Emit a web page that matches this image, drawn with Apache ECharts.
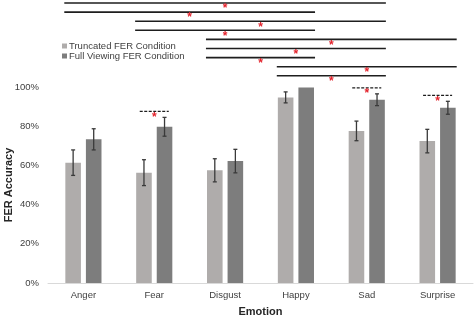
<!DOCTYPE html>
<html>
<head>
<meta charset="utf-8">
<script src="https://cdn.jsdelivr.net/npm/echarts@6/dist/echarts.min.js"></script>
<style>
  html, body { margin: 0; padding: 0; background: #fff; }
  #main { width: 474px; height: 315px; }
</style>
</head>
<body>
<div id="main"></div>
<script>
var emotions = ["Anger", "Fear", "Disgust", "Happy", "Sad", "Surprise"];
var truncated = [61.4, 56.3, 57.5, 94.7, 77.6, 72.4];
var truncatedErr = [6.5, 6.6, 5.9, 2.8, 5.0, 6.0];
var fullViewing = [73.3, 79.7, 62.2, 99.8, 93.5, 89.4];
var fullViewingErr = [5.4, 4.8, 6.0, 0, 3.0, 3.3];
// significant differences between emotions (category index pairs), top row first
var sigPairs = [[0, 4], [0, 3], [1, 4], [1, 3], [2, 5], [2, 4], [2, 3], [3, 5], [3, 4]];
// emotions where the two conditions differ
var sigConditions = [1, 4, 5];

var myChart = echarts.init(document.getElementById("main"));

var BAR_W = 0.22, BAR_GAP = 0.32;

function errorSeries(name, vals, errs, side) {
  var data = vals.map(function (v, i) { return [i, v, errs[i]]; });
  return {
    name: name + " err",
    type: "custom",
    clip: false,
    silent: true,
    z: 5,
    encode: { x: 0, y: 1 },
    data: data,
    renderItem: function (params, api) {
      var i = api.value(0), v = api.value(1), e = api.value(2);
      if (!e) return null;
      var bw = api.size([1, 0])[0];
      var dx = side * bw * BAR_W * (1 + BAR_GAP) / 2;
      var hi = api.coord([i, v + e]);
      var lo = api.coord([i, v - e]);
      var x = hi[0] + dx;
      var st = { stroke: "#3a3a3a", lineWidth: 1.3 };
      return {
        type: "group",
        children: [
          { type: "line", shape: { x1: x, y1: hi[1], x2: x, y2: lo[1] }, style: st },
          { type: "line", shape: { x1: x - 2, y1: hi[1], x2: x + 2, y2: hi[1] }, style: st },
          { type: "line", shape: { x1: x - 2, y1: lo[1], x2: x + 2, y2: lo[1] }, style: st }
        ]
      };
    }
  };
}

function star(x, y) {
  return {
    type: "text",
    style: {
      x: x, y: y + 2.5, text: "*", fill: "#e3222b",
      font: "bold 12px 'Liberation Sans', Arial", textAlign: "center", textVerticalAlign: "middle"
    }
  };
}

var option = {
  animation: false,
  textStyle: { fontFamily: "'Liberation Sans', Arial, sans-serif" },
  grid: { left: 48, right: 1, top: 87, bottom: 32, containLabel: false, outerBoundsMode: "none" },
  legend: {
    orient: "vertical",
    left: 62,
    top: 41,
    padding: 0,
    itemWidth: 5,
    itemHeight: 5,
    itemGap: 0,
    icon: "rect",
    data: ["Truncated FER Condition", "Full Viewing FER Condition"],
    textStyle: { fontSize: 9.5, color: "#404040", lineHeight: 10, padding: [0, 0, 0, -3] }
  },
  xAxis: {
    type: "category",
    data: emotions,
    axisLine: { lineStyle: { color: "#d9d9d9", width: 1 } },
    axisTick: { show: false },
    axisLabel: { fontSize: 9.5, color: "#404040", margin: 7 },
    name: "Emotion",
    nameLocation: "middle",
    nameGap: 23,
    nameMoveOverlap: false,
    nameTextStyle: { fontSize: 11, fontWeight: "bold", color: "#262626" }
  },
  yAxis: {
    type: "value",
    min: 0,
    max: 100,
    interval: 20,
    axisLine: { show: false },
    axisTick: { show: false },
    splitLine: { show: false },
    axisLabel: { formatter: "{value}%", fontSize: 9.5, color: "#404040", margin: 9 },
    name: "FER Accuracy",
    nameLocation: "middle",
    nameGap: 34,
    nameMoveOverlap: false,
    nameTextStyle: { fontSize: 11, fontWeight: "bold", color: "#262626" }
  },
  series: [
    {
      name: "Truncated FER Condition",
      type: "bar",
      data: truncated,
      barWidth: BAR_W * 100 + "%",
      barGap: BAR_GAP * 100 + "%",
      itemStyle: { color: "#afacab" }
    },
    {
      name: "Full Viewing FER Condition",
      type: "bar",
      data: fullViewing,
      barWidth: BAR_W * 100 + "%",
      barGap: BAR_GAP * 100 + "%",
      itemStyle: { color: "#7d7d7d" }
    },
    errorSeries("Truncated FER Condition", truncated, truncatedErr, -1),
    errorSeries("Full Viewing FER Condition", fullViewing, fullViewingErr, 1),
    {
      name: "emotion comparisons",
      type: "custom",
      clip: false,
      silent: true,
      encode: { x: 0, y: -1 },
      data: sigPairs,
      renderItem: function (params, api) {
        var bw = api.size([1, 0])[0];
        var half = bw * 0.27;
        var x1 = api.coord([api.value(0), 0])[0] - half;
        var x2 = api.coord([api.value(1), 0])[0] + half;
        var y = 3 + params.dataIndex * 9.1;
        return {
          type: "group",
          children: [
            { type: "line", shape: { x1: x1, y1: y, x2: x2, y2: y }, style: { stroke: "#1e1e1e", lineWidth: 1.6 } },
            star((x1 + x2) / 2, y + 3.5)
          ]
        };
      }
    },
    {
      name: "condition comparisons",
      type: "custom",
      clip: false,
      silent: true,
      encode: { x: 0, y: -1 },
      data: sigConditions.map(function (i) { return [i]; }),
      renderItem: function (params, api) {
        var i = api.value(0);
        var bw = api.size([1, 0])[0];
        var top = Math.max(truncated[i] + truncatedErr[i], fullViewing[i] + fullViewingErr[i]);
        var p = api.coord([i, top]);
        var y = p[1] - 6;
        var half = bw * 0.205;
        return {
          type: "group",
          children: [
            { type: "line", shape: { x1: p[0] - half, y1: y, x2: p[0] + half, y2: y }, style: { stroke: "#1e1e1e", lineWidth: 1.3, lineDash: [3, 1.5] } },
            star(p[0], y + 3.5)
          ]
        };
      }
    }
  ]
};

myChart.setOption(option);
</script>
</body>
</html>
